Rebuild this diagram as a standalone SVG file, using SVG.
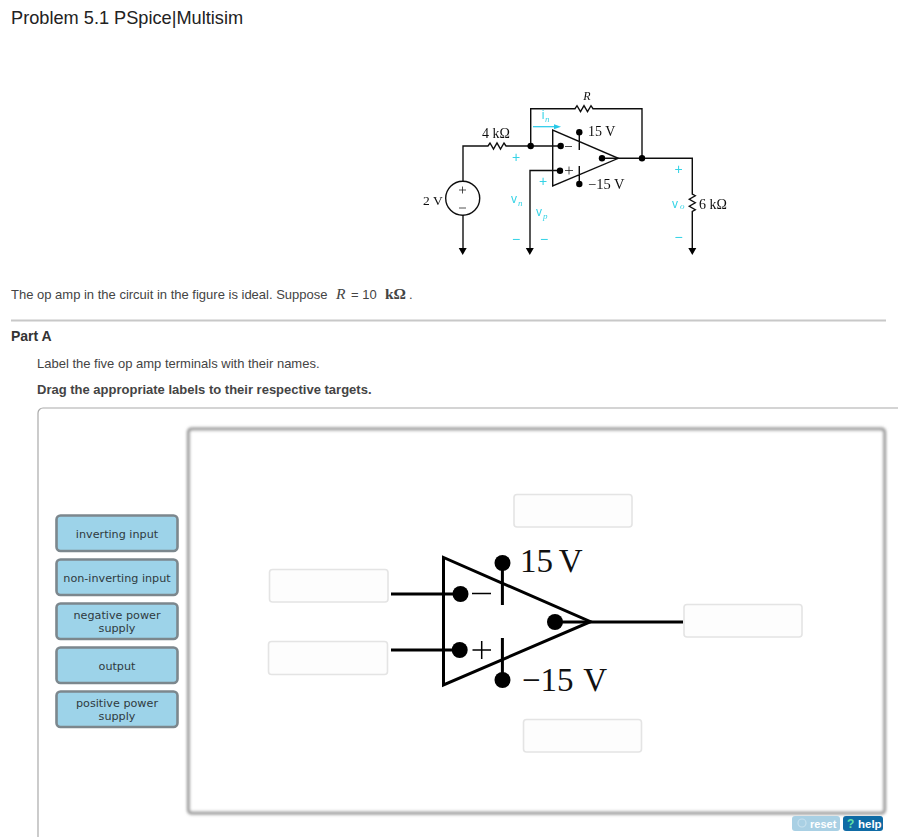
<svg xmlns="http://www.w3.org/2000/svg" width="898" height="837" viewBox="0 0 898 837">
<style>
.s{font-family:"Liberation Sans",Arial,sans-serif;fill:#444}
.t{font-family:"Liberation Serif","Times New Roman",serif;fill:#111}
.c{font-family:"DejaVu Sans",Verdana,sans-serif;font-size:11.2px;fill:#2f3a40;text-anchor:middle}
.w{fill:none;stroke:#111;stroke-width:1.4}
.f{fill:none;stroke:#222;stroke-width:.8}
.W{fill:none;stroke:#000;stroke-width:3}
.T{fill:none;stroke:#000;stroke-width:1.500}
.d{fill:#000}
.y{font-family:"Liberation Sans",Arial,sans-serif;font-size:14px;fill:#35d3e6;text-anchor:middle}
.v{font-family:"Liberation Sans",Arial,sans-serif;font-size:12px;fill:#35d3e6;text-anchor:middle}
.yt{font-family:"Liberation Serif",serif;font-size:9px;font-style:italic;fill:#35d3e6}
.l{fill:#9dd3e9;stroke:#7c878d;stroke-width:2.6}
.b{fill:#fdfdfd;stroke:#e4e4e4;stroke-width:1.6}
</style>
<defs>
<filter id="blur" x="-5%" y="-5%" width="110%" height="110%"><feGaussianBlur stdDeviation="1.500"/></filter>
<filter id="soft" x="-5%" y="-5%" width="110%" height="110%"><feGaussianBlur stdDeviation="0.35"/></filter>
</defs>
<rect width="898" height="837" fill="#fff"/>
<text class="s" x="11" y="24" font-size="18.200" style="fill:#222">Problem 5.1 PSpice|Multisim</text>
<g id="circuit" filter="url(#soft)">
<g id="connectors-small">
<path class="w" d="M463 181V146H488l2-3 3.500 6 3.500-6 3.500 6 3.500-6 2 3H560"/>
<path class="w" d="M530.700 146V108.700H575l2-3 3.500 6 3.500-6 3.500 6 3.500-6 2 3H642V158.300"/>
<path class="w" d="M463 215V248M560 170.500H530V248"/>
<path class="w" d="M602 158.300H692.300V194l3 1.750-6 3.500 6 3.500-6 3.500 6 3.500-3 1.750V248"/>
<path class="w" d="M552.700 130V186L618.300 158.300ZM579.300 132V150M579.300 166V184"/>
<circle class="w" cx="462.700" cy="198.300" r="17"/>
<path class="d" d="M458.700 248h8l-4 7zM525.800 248h8l-4 7zM688.300 248h8l-4 7z"/>
<path class="f" d="M459 190h7M462.500 186.500v7M459 208h7M565 146.500h7M565 170.500h8M569 166.500v8"/>
</g>
<g class="d">
<circle cx="530.700" cy="146" r="3.200"/><circle cx="560.700" cy="146" r="3.200"/><circle cx="560" cy="170.700" r="3.200"/><circle cx="602" cy="158.300" r="3.200"/><circle cx="642" cy="158.300" r="3.200"/><circle cx="579.300" cy="132.300" r="3.200"/><circle cx="579.300" cy="184" r="3.200"/>
</g>
<text class="t" x="587" y="100" font-size="12" font-style="italic" text-anchor="middle">R</text>
<text class="t" x="482" y="138" font-size="14">4 kΩ</text>
<text class="t" x="588" y="136" font-size="14">15 V</text>
<text class="t" x="588" y="189" font-size="14.500">−15 V</text>
<text class="t" x="423" y="205" font-size="13.500">2 V</text>
<text class="t" x="699" y="209" font-size="14">6 kΩ</text>
<path d="M533 126.700H556" stroke="#25c8e8" stroke-width="1.200"/><path d="M561 126.700l-7-2.500v5z" fill="#25c8e8"/>
<text class="v" x="543" y="119">i</text><text class="yt" x="545" y="122">n</text>
<text class="y" x="516" y="162">+</text><text class="y" x="516" y="244">−</text>
<text class="y" x="543" y="186">+</text><text class="y" x="544" y="244">−</text>
<text class="y" x="678.700" y="174">+</text><text class="y" x="678.700" y="242">−</text>
<text class="v" x="514" y="203">v</text><text class="yt" x="518" y="206">n</text>
<text class="v" x="539" y="216">v</text><text class="yt" x="543" y="219">p</text>
<text class="v" x="675" y="208">v</text><text class="yt" x="680" y="209">o</text>
</g>
<text class="s" x="11" y="299" font-size="13">The op amp in the circuit in the figure is ideal. Suppose</text>
<text class="t" x="336" y="299" font-size="15.500" font-style="italic" style="fill:#444">R</text>
<text class="s" x="351" y="299" font-size="13">= 10</text>
<text class="t" x="385" y="299" font-size="15.500" font-weight="bold" style="fill:#444">kΩ</text>
<text class="s" x="409" y="299" font-size="13">.</text>
<rect x="11" y="319.500" width="875" height="2" fill="#c8c8c8"/>
<text class="s" x="11" y="340.500" font-size="14" font-weight="bold" style="fill:#333">Part A</text>
<text class="s" x="37" y="368" font-size="13">Label the five op amp terminals with their names.</text>
<text class="s" x="37" y="394" font-size="13" font-weight="bold">Drag the appropriate labels to their respective targets.</text>
<path d="M38 837V413a5 5 0 0 1 5-5H898" fill="none" stroke="#aaa" stroke-width="1.200"/>
<rect x="188.500" y="429" width="696" height="384" rx="3" fill="#fff" stroke="#8f8f8f" stroke-width="3" filter="url(#blur)"/>
<g id="label-inverting"><rect class="l" x="56.500" y="515.500" width="121" height="35.500" rx="4"/><text class="c" x="117" y="538">inverting input</text></g>
<g id="label-noninverting"><rect class="l" x="56.500" y="559.500" width="121" height="35.500" rx="4"/><text class="c" x="117" y="582">non-inverting input</text></g>
<g id="label-negative"><rect class="l" x="56.500" y="603.500" width="121" height="35.500" rx="4"/><text class="c" x="117" y="618.500">negative power</text><text class="c" x="117" y="632">supply</text></g>
<g id="label-output"><rect class="l" x="56.500" y="647.500" width="121" height="35.500" rx="4"/><text class="c" x="117" y="670">output</text></g>
<g id="label-positive"><rect class="l" x="56.500" y="691.500" width="121" height="35.500" rx="4"/><text class="c" x="117" y="706.500">positive power</text><text class="c" x="117" y="720">supply</text></g>
<g id="target-top"><rect class="b" x="514" y="494.500" width="118" height="32.500" rx="3"/></g>
<g id="target-inverting"><rect class="b" x="269.500" y="569.500" width="118.500" height="32.500" rx="3"/></g>
<g id="target-noninverting"><rect class="b" x="268.500" y="641.500" width="119" height="33" rx="3"/></g>
<g id="target-output"><rect class="b" x="684" y="604.500" width="118" height="32.500" rx="3"/></g>
<g id="target-bottom"><rect class="b" x="523.500" y="719.500" width="118" height="32.500" rx="3"/></g>
<g id="connectors">
<path class="W" d="M443.500 557.500V685L590.500 621.700Z"/>
<path class="W" d="M391 594H460M391 650H460M555 622H683M502.400 563V605M502.400 638V680"/>
<path class="T" d="M472 593.500H491M472.500 650H491M481.700 641V659"/>
</g>
<g id="opamp-dots" class="d">
<circle cx="460.500" cy="594" r="8"/><circle cx="459.700" cy="650" r="8"/><circle cx="555" cy="622" r="8"/><circle cx="502.500" cy="563" r="8"/><circle cx="502.500" cy="680" r="8"/>
</g>
<text class="t" x="520" y="571.500" font-size="33" word-spacing="-2">15 V</text>
<text class="t" x="522" y="691" font-size="33" word-spacing="2">−15 V</text>
<g id="reset"><rect x="792" y="816" width="48" height="15" rx="3" fill="#a9d0e4"/><circle cx="802" cy="823" r="4" fill="none" stroke="#c6e0ee" stroke-width="1.200"/><text x="810" y="828" font-family="Liberation Sans,sans-serif" font-size="11" font-weight="bold" fill="#fff">reset</text></g>
<g id="help"><rect x="843" y="816" width="40" height="15" rx="3" fill="#0f6ba5"/><text x="847" y="828" font-family="Liberation Sans,sans-serif" font-size="12" font-weight="bold" fill="#5fe0a8">?</text><text x="858" y="828" font-family="Liberation Sans,sans-serif" font-size="11.500" font-weight="bold" fill="#fff">help</text></g>
</svg>
